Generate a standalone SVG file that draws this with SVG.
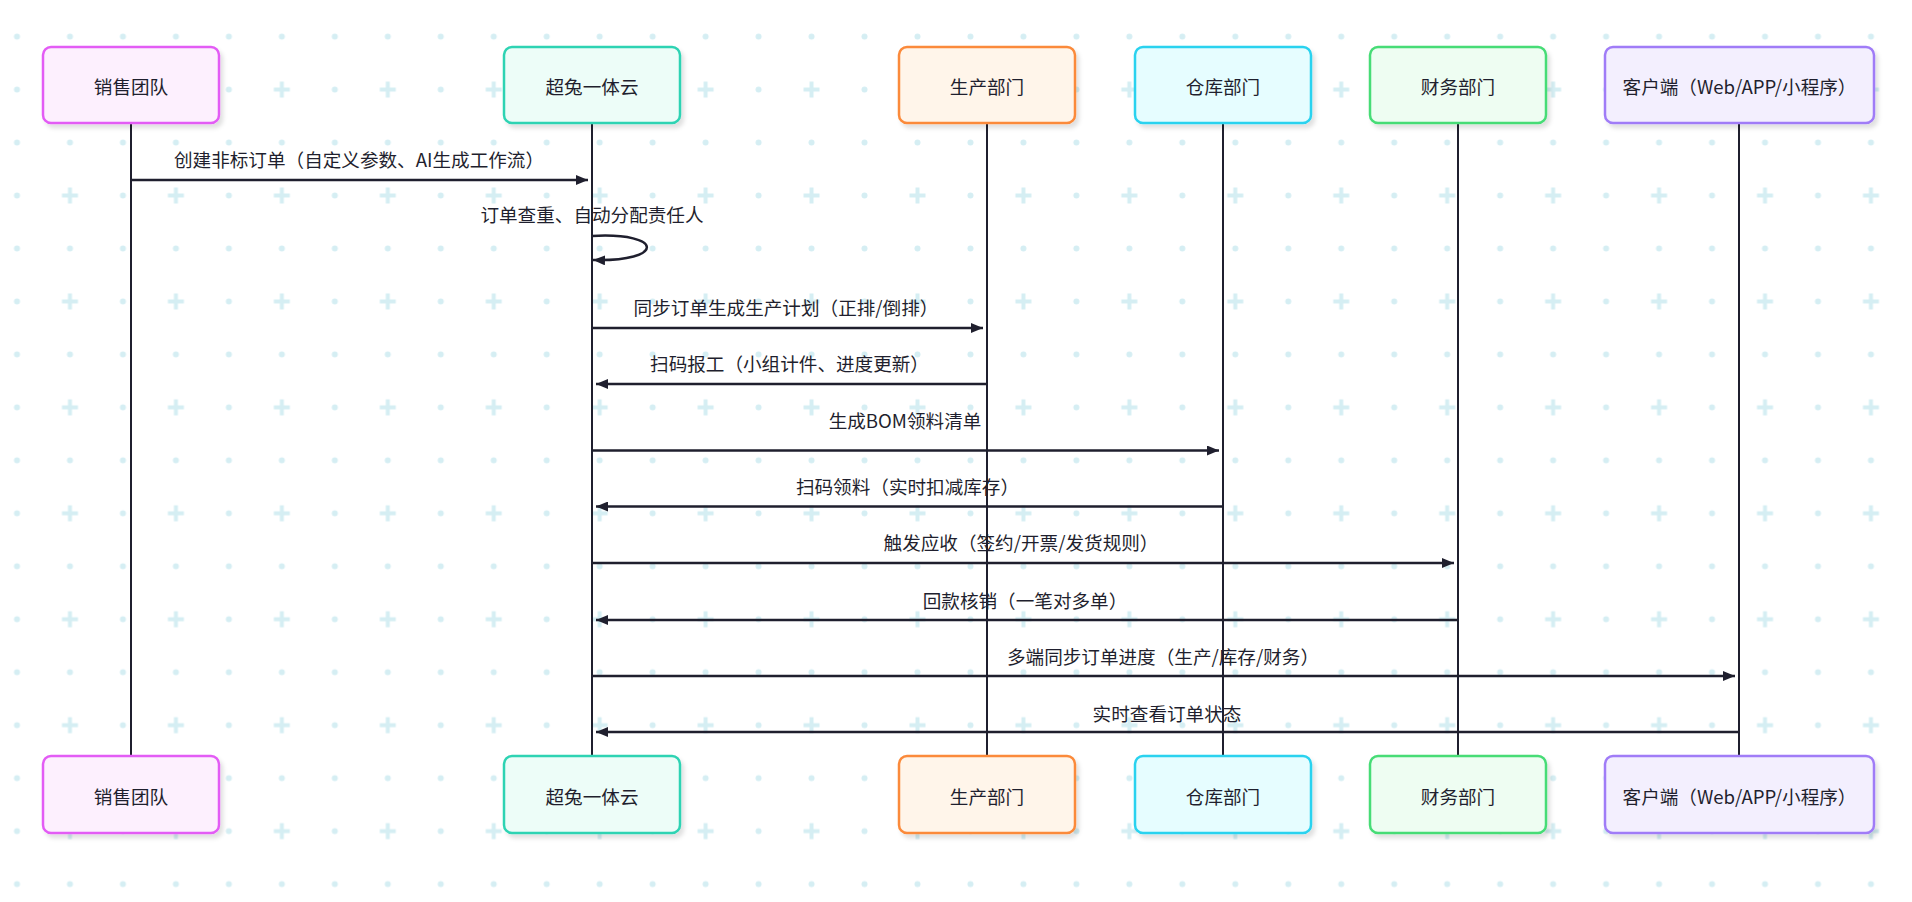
<svg xmlns="http://www.w3.org/2000/svg" width="1912" height="902" viewBox="0 0 1912 902">
  <style>
    .lbl { font-family: "Noto Sans CJK SC", "Noto Sans", sans-serif; font-size: 18.6px; fill: #1f1f2e; text-anchor: middle; dominant-baseline: central; }
    .box { stroke-width: 2.5; filter: url(#shadow); }
    .life { stroke: #1f1f2e; stroke-width: 2; fill: none; }
    .msg { stroke: #1f1f2e; stroke-width: 2.5; fill: none; marker-end: url(#arrow); }
    .bg { fill: #d5eef3; }
    .plus { stroke: #d5eef3; stroke-width: 4; }
  </style>
  <defs>
    <pattern id="grid" patternUnits="userSpaceOnUse" x="-9.485" y="10.115" width="105.94" height="105.94">
      <circle class="bg" cx="26.485" cy="26.485" r="3"/>
      <circle class="bg" cx="79.455" cy="26.485" r="3"/>
      <circle class="bg" cx="26.485" cy="79.455" r="3"/>
      <line class="plus" x1="71.455" y1="79.455" x2="87.455" y2="79.455"/>
      <line class="plus" x1="79.455" y1="71.455" x2="79.455" y2="87.455"/>
    </pattern>
    <filter id="shadow" x="-10%" y="-10%" width="130%" height="140%">
      <feDropShadow dx="3" dy="4" stdDeviation="2" flood-color="#000" flood-opacity="0.12"/>
    </filter>
    <marker id="arrow" markerUnits="userSpaceOnUse" markerWidth="12" markerHeight="10" refX="12" refY="5" orient="auto">
      <path d="M0,0 L12,5 L0,10 z" fill="#1f1f2e"/>
    </marker>
  </defs>

  <rect width="1912" height="902" fill="#ffffff"/>
  <rect width="1912" height="902" fill="url(#grid)"/>

  <g id="lifelines">
    <line class="life" x1="131" y1="123" x2="131" y2="756"/>
    <line class="life" x1="592" y1="123" x2="592" y2="756"/>
    <line class="life" x1="987" y1="123" x2="987" y2="756"/>
    <line class="life" x1="1223" y1="123" x2="1223" y2="756"/>
    <line class="life" x1="1458" y1="123" x2="1458" y2="756"/>
    <line class="life" x1="1739" y1="123" x2="1739" y2="756"/>
  </g>

  <g id="node-sales">
    <rect class="box" x="43" y="47" width="176" height="76" rx="8" fill="#fdf0fe" stroke="#e35cf5"/>
    <text class="lbl" x="131" y="85">销售团队</text>
  </g>
  <g id="node-cloud">
    <rect class="box" x="504" y="47" width="176" height="76" rx="8" fill="#edfdf8" stroke="#2fd3b3"/>
    <text class="lbl" x="592" y="85">超兔一体云</text>
  </g>
  <g id="node-prod">
    <rect class="box" x="899" y="47" width="176" height="76" rx="8" fill="#fff5ea" stroke="#fb8a3a"/>
    <text class="lbl" x="987" y="85">生产部门</text>
  </g>
  <g id="node-wh">
    <rect class="box" x="1135" y="47" width="176" height="76" rx="8" fill="#e6fdff" stroke="#29d2ef"/>
    <text class="lbl" x="1223" y="85">仓库部门</text>
  </g>
  <g id="node-fin">
    <rect class="box" x="1370" y="47" width="176" height="76" rx="8" fill="#eefdf2" stroke="#46dc76"/>
    <text class="lbl" x="1458" y="85">财务部门</text>
  </g>
  <g id="node-client">
    <rect class="box" x="1605" y="47" width="269" height="76" rx="8" fill="#f3effe" stroke="#a07cf7"/>
    <text class="lbl" x="1739.5" y="85">客户端（Web/APP/小程序）</text>
  </g>

  <g id="node-sales-bottom">
    <rect class="box" x="43" y="756" width="176" height="77" rx="8" fill="#fdf0fe" stroke="#e35cf5"/>
    <text class="lbl" x="131" y="795">销售团队</text>
  </g>
  <g id="node-cloud-bottom">
    <rect class="box" x="504" y="756" width="176" height="77" rx="8" fill="#edfdf8" stroke="#2fd3b3"/>
    <text class="lbl" x="592" y="795">超兔一体云</text>
  </g>
  <g id="node-prod-bottom">
    <rect class="box" x="899" y="756" width="176" height="77" rx="8" fill="#fff5ea" stroke="#fb8a3a"/>
    <text class="lbl" x="987" y="795">生产部门</text>
  </g>
  <g id="node-wh-bottom">
    <rect class="box" x="1135" y="756" width="176" height="77" rx="8" fill="#e6fdff" stroke="#29d2ef"/>
    <text class="lbl" x="1223" y="795">仓库部门</text>
  </g>
  <g id="node-fin-bottom">
    <rect class="box" x="1370" y="756" width="176" height="77" rx="8" fill="#eefdf2" stroke="#46dc76"/>
    <text class="lbl" x="1458" y="795">财务部门</text>
  </g>
  <g id="node-client-bottom">
    <rect class="box" x="1605" y="756" width="269" height="77" rx="8" fill="#f3effe" stroke="#a07cf7"/>
    <text class="lbl" x="1739.5" y="795">客户端（Web/APP/小程序）</text>
  </g>

  <g id="connectors">
    <line class="msg" x1="131" y1="180" x2="588" y2="180"/>
    <text class="lbl" x="359" y="158">创建非标订单（自定义参数、AI生成工作流）</text>

    <path class="msg" d="M592,236 C665,232 665,262 593,260"/>
    <text class="lbl" x="592" y="213">订单查重、自动分配责任人</text>

    <line class="msg" x1="592" y1="328" x2="983" y2="328"/>
    <text class="lbl" x="786" y="306.5">同步订单生成生产计划（正排/倒排）</text>

    <line class="msg" x1="987" y1="384" x2="596" y2="384"/>
    <text class="lbl" x="789.5" y="362.5">扫码报工（小组计件、进度更新）</text>

    <line class="msg" x1="592" y1="450.5" x2="1219" y2="450.5"/>
    <text class="lbl" x="905" y="419.5">生成BOM领料清单</text>

    <line class="msg" x1="1223" y1="506.5" x2="596" y2="506.5"/>
    <text class="lbl" x="907.5" y="485">扫码领料（实时扣减库存）</text>

    <line class="msg" x1="592" y1="563" x2="1454" y2="563"/>
    <text class="lbl" x="1021" y="541">触发应收（签约/开票/发货规则）</text>

    <line class="msg" x1="1458" y1="620" x2="596" y2="620"/>
    <text class="lbl" x="1025" y="599">回款核销（一笔对多单）</text>

    <line class="msg" x1="592" y1="676" x2="1735" y2="676"/>
    <text class="lbl" x="1163" y="655">多端同步订单进度（生产/库存/财务）</text>

    <line class="msg" x1="1739" y1="732" x2="596" y2="732"/>
    <text class="lbl" x="1167" y="712.5">实时查看订单状态</text>
  </g>
</svg>
